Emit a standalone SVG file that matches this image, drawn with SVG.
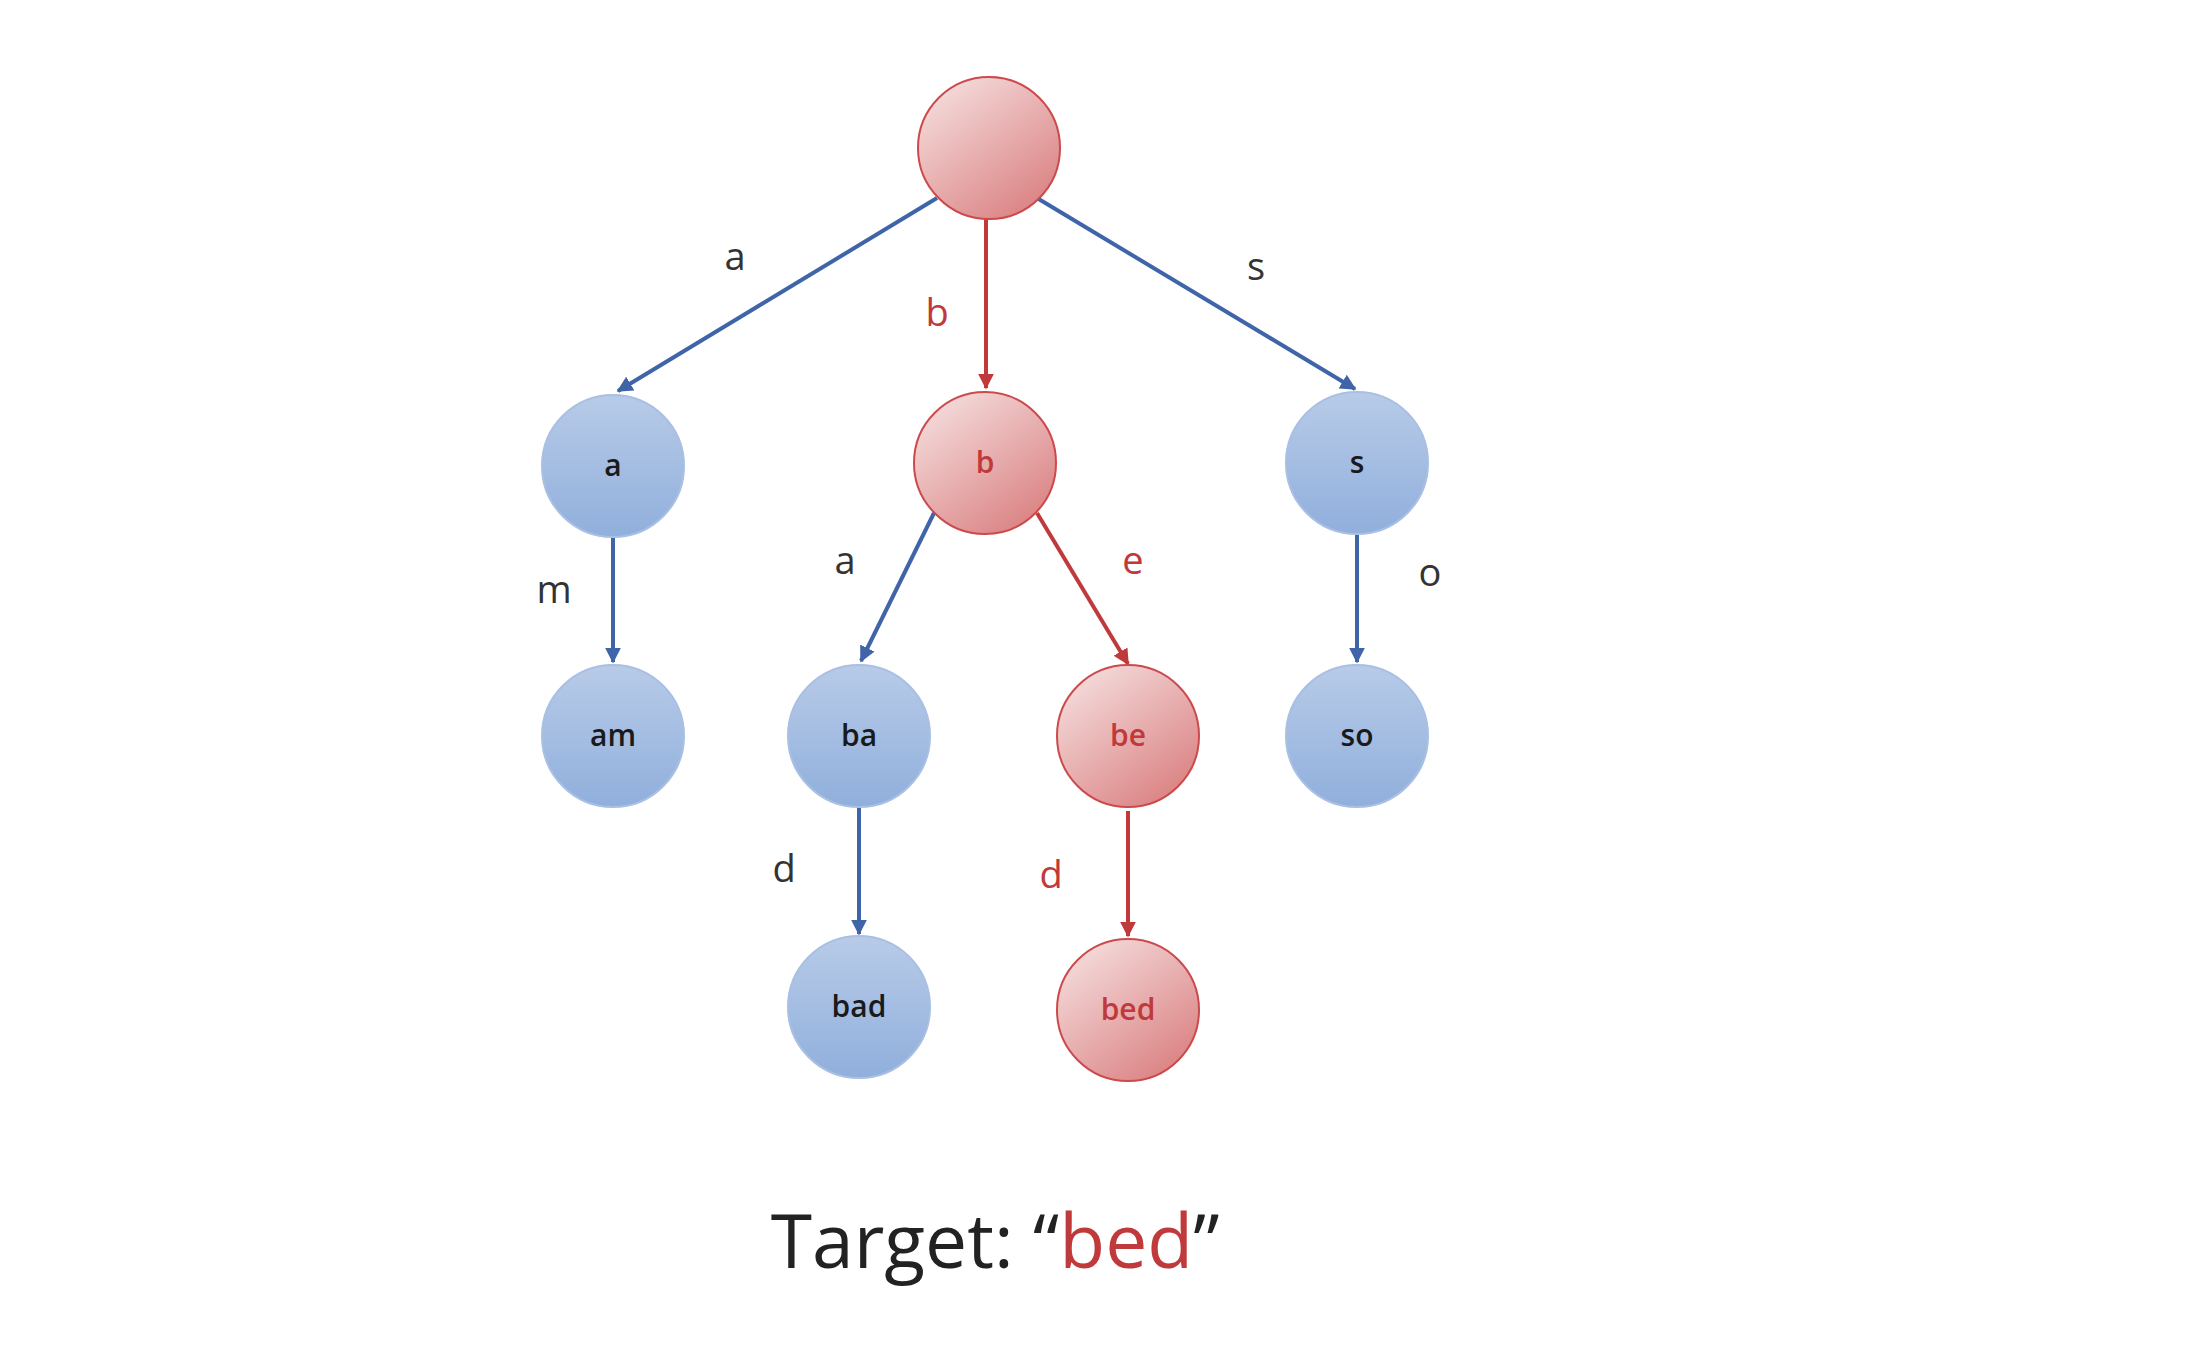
<svg xmlns="http://www.w3.org/2000/svg" width="2204" height="1368" viewBox="0 0 2204 1368">
<defs>
<linearGradient id="gb" x1="0" y1="0" x2="0" y2="1"><stop offset="0" stop-color="#b8cbe8"/><stop offset="1" stop-color="#90afdc"/></linearGradient>
<linearGradient id="gr" x1="0.2" y1="0.1" x2="0.8" y2="0.9"><stop offset="0" stop-color="#f3d6d6"/><stop offset="1" stop-color="#dc8687"/></linearGradient>
<marker id="ab" viewBox="0 0 10 10" refX="9" refY="5" markerWidth="4" markerHeight="4" orient="auto"><path d="M0,0L10,5L0,10z" fill="#3f64a8"/></marker>
<marker id="ar" viewBox="0 0 10 10" refX="9" refY="5" markerWidth="4" markerHeight="4" orient="auto"><path d="M0,0L10,5L0,10z" fill="#c0393b"/></marker>
</defs>
<style>
.nb{fill:url(#gb);stroke:#a9bfe3;stroke-width:2}
.nr{fill:url(#gr);stroke:#cc4a4c;stroke-width:2}
.eb{stroke:#3f64a8;stroke-width:4;fill:none;marker-end:url(#ab)}
.er{stroke:#c0393b;stroke-width:4;fill:none;marker-end:url(#ar)}
text{font-family:"Open Sans","Liberation Sans",sans-serif;text-anchor:middle}
.tn{font-size:30px;fill:#1a1a1a;font-weight:600}
.tnr{font-size:30px;fill:#c0393b;font-weight:600}
.lb{font-size:38px;fill:#333}
.lr{font-size:38px;fill:#c0393b}
</style>
<rect width="2204" height="1368" fill="#fff"/>
<g transform="translate(-4,0)">
<g id="connectors">
<line class="eb" x1="941" y1="198" x2="622" y2="391"/>
<line class="er" x1="990" y1="219" x2="990" y2="388"/>
<line class="eb" x1="1041" y1="198" x2="1359" y2="389"/>
<line class="eb" x1="617" y1="537" x2="617" y2="662"/>
<line class="eb" x1="938" y1="513" x2="865" y2="661"/>
<line class="er" x1="1041" y1="513" x2="1132" y2="664"/>
<line class="eb" x1="1361" y1="534" x2="1361" y2="662"/>
<line class="eb" x1="863" y1="805" x2="863" y2="934"/>
<line class="er" x1="1132" y1="811" x2="1132" y2="936"/>
<text class="lb" x="739" y="270">a</text>
<text class="lr" x="941" y="326">b</text>
<text class="lb" x="1260" y="280">s</text>
<text class="lb" x="558" y="603">m</text>
<text class="lb" x="849" y="574">a</text>
<text class="lr" x="1137" y="574">e</text>
<text class="lb" x="1434" y="586">o</text>
<text class="lb" x="788" y="882">d</text>
<text class="lr" x="1055" y="888">d</text>
</g>
<g id="root"><circle class="nr" cx="993" cy="148" r="71"/></g>
<g id="n-a"><circle class="nb" cx="617" cy="466" r="71"/><text class="tn" x="617" y="476">a</text></g>
<g id="n-b"><circle class="nr" cx="989" cy="463" r="71"/><text class="tnr" x="989" y="473">b</text></g>
<g id="n-s"><circle class="nb" cx="1361" cy="463" r="71"/><text class="tn" x="1361" y="473">s</text></g>
<g id="n-am"><circle class="nb" cx="617" cy="736" r="71"/><text class="tn" x="617" y="746">am</text></g>
<g id="n-ba"><circle class="nb" cx="863" cy="736" r="71"/><text class="tn" x="863" y="746">ba</text></g>
<g id="n-be"><circle class="nr" cx="1132" cy="736" r="71"/><text class="tnr" x="1132" y="746">be</text></g>
<g id="n-so"><circle class="nb" cx="1361" cy="736" r="71"/><text class="tn" x="1361" y="746">so</text></g>
<g id="n-bad"><circle class="nb" cx="863" cy="1007" r="71"/><text class="tn" x="863" y="1017">bad</text></g>
<g id="n-bed"><circle class="nr" cx="1132" cy="1010" r="71"/><text class="tnr" x="1132" y="1020">bed</text></g>
</g>
<g id="caption"><text x="995" y="1268" style="font-size:75px;fill:#222">Target: “<tspan fill="#c0393b">bed</tspan>”</text></g>
</svg>
